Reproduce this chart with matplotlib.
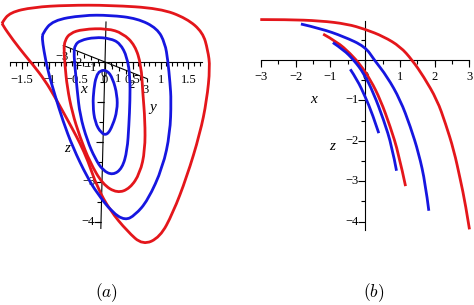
import numpy as np
import matplotlib
matplotlib.use("Agg")
import matplotlib.pyplot as plt
from matplotlib.path import Path
from matplotlib.patches import PathPatch

plt.rcParams['mathtext.fontset'] = 'cm'

RED = '#e4161b'
BLUE = '#1616e0'
SERIF = 'Liberation Serif'
MINUS = '\u2212'
FS = 9

# ---------------- panel (a) data: projected loops (screen-x, z) ----------------
a_red_outer_u = [-1.85, -1.71, -1.29, -0.68, 0.09, 0.99, 1.47, 1.76, 1.85, 1.89, 1.83, 1.71, 1.47, 1.22,
                 0.99, 0.68, 0.40, 0.09, -0.14, -0.31, -0.45, -0.59, -0.74, -0.90, -1.08, -1.29, -1.44, -1.65, -1.85]
a_red_outer_z = [0.99, 1.24, 1.37, 1.42, 1.42, 1.34, 1.09, 0.74, 0.29, -0.13, -0.96, -1.78, -2.88, -3.78,
                 -4.38, -4.58, -4.23, -3.71, -3.13, -2.46, -2.03, -1.66, -1.28, -0.88, -0.46, -0.08, 0.17, 0.54, 0.94]

a_blue_outer_u = [-1.12, -0.94, -0.40, 0.09, 0.58, 0.94, 1.08, 1.13, 1.17, 1.19, 1.17, 1.04, 0.77, 0.54,
                  0.36, 0.13, -0.14, -0.32, -0.58, -0.76, -0.90, -1.03, -1.10, -1.13]
a_blue_outer_z = [0.72, 1.04, 1.17, 1.17, 1.09, 0.84, 0.47, 0.04, -0.53, -0.96, -1.78, -2.63, -3.46, -3.83,
                  -3.96, -3.76, -3.28, -2.88, -2.13, -1.46, -0.83, -0.21, 0.29, 0.59]

a_red_inner_u = [-0.72, -0.63, -0.40, 0.04, 0.32, 0.54, 0.65, 0.68, 0.72, 0.72, 0.63, 0.45, 0.22, -0.04,
                 -0.27, -0.45, -0.59, -0.68, -0.72, -0.74]
a_red_inner_z = [0.54, 0.72, 0.82, 0.84, 0.72, 0.42, -0.08, -0.78, -1.46, -2.21, -2.78, -3.16, -3.28, -3.06,
                 -2.51, -1.88, -1.26, -0.63, -0.08, 0.34]

a_blue_mid_u = [-0.54, -0.45, -0.18, 0.09, 0.27, 0.40, 0.45, 0.45, 0.43, 0.40, 0.31, 0.14, -0.04, -0.18,
                -0.32, -0.45, -0.50, -0.54, -0.56]
a_blue_mid_z = [0.42, 0.54, 0.62, 0.59, 0.47, 0.12, -0.38, -0.96, -1.58, -2.21, -2.66, -2.83, -2.71, -2.41,
                -1.96, -1.33, -0.71, -0.13, 0.24]

a_blue_inner_u = [-0.09, 0.04, 0.14, 0.22, 0.22, 0.14, 0.04, -0.07, -0.18, -0.22, -0.20, -0.16]
a_blue_inner_z = [-0.21, -0.21, -0.41, -0.83, -1.21, -1.58, -1.83, -1.78, -1.51, -1.08, -0.66, -0.36]

a_x_ticklabels = [-1.5, -1, -0.5, 0, 0.5, 1, 1.5]
a_y_ticklabels = [-3, -2, -1, 0, 1, 2, 3]
a_z_ticklabels = [-3, -4]

# ---------------- panel (b) data: (x, z) curves ----------------
b_red_outer_x = [-3.02, -2.25, -1.29, -0.52, 0.0, 0.53, 1.01, 1.35, 1.68, 2.07, 2.31, 2.55, 2.74, 2.88, 3.0]
b_red_outer_z = [1.0, 1.0, 0.97, 0.89, 0.76, 0.58, 0.33, 0.0, -0.41, -0.99, -1.57, -2.23, -2.97, -3.55, -4.19]

b_blue_outer_x = [-1.85, -1.29, -0.62, 0.0, 0.26, 0.63, 1.01, 1.30, 1.54, 1.73, 1.83]
b_blue_outer_z = [0.89, 0.78, 0.58, 0.33, 0.0, -0.41, -0.99, -1.65, -2.31, -3.05, -3.73]

b_red_inner_x = [-1.21, -0.81, -0.43, -0.14, 0.15, 0.44, 0.72, 0.96, 1.16]
b_red_inner_z = [0.64, 0.45, 0.16, -0.12, -0.49, -0.99, -1.65, -2.31, -3.12]

b_blue_mid_x = [-0.93, -0.62, -0.33, -0.04, 0.24, 0.53, 0.77, 0.90]
b_blue_mid_z = [0.43, 0.25, 0.0, -0.33, -0.82, -1.48, -2.14, -2.74]

b_blue_inner_x = [-0.43, -0.23, 0.0, 0.20, 0.39]
b_blue_inner_z = [-0.23, -0.49, -0.91, -1.32, -1.81]

b_x_ticklabels = [-3, -2, -1, 0, 1, 2, 3]
b_z_ticklabels = [-1, -2, -3, -4]


def fmt(v):
    s = ('%g' % abs(v))
    return (MINUS + s) if v < 0 else s


def smooth_closed(ax, us, zs, color):
    P = np.column_stack([us, zs])
    mids = (P + np.roll(P, -1, axis=0)) / 2
    verts = [mids[-1]]
    codes = [Path.MOVETO]
    for i in range(len(P)):
        verts += [P[i], mids[i]]
        codes += [Path.CURVE3, Path.CURVE3]
    ax.add_patch(PathPatch(Path(verts, codes), fill=False, ec=color, lw=2.0,
                           joinstyle='round', zorder=5, clip_on=False))


def smooth_open(ax, xs, zs, color):
    P = np.column_stack([xs, zs])
    n = len(P)
    verts = [P[0]]
    codes = [Path.MOVETO]
    for i in range(1, n - 2):
        verts += [P[i], (P[i] + P[i + 1]) / 2]
        codes += [Path.CURVE3, Path.CURVE3]
    verts += [P[n - 2], P[n - 1]]
    codes += [Path.CURVE3, Path.CURVE3]
    ax.add_patch(PathPatch(Path(verts, codes), fill=False, ec=color, lw=2.0,
                           capstyle='butt', zorder=5, clip_on=False))


fig = plt.figure(figsize=(4.74, 3.05), dpi=100)
fig.patch.set_facecolor('white')

# ---------------- panel (a) ----------------
axa = fig.add_axes([0.0, 1 - 260 / 305, 237 / 474, 260 / 305])
axa.set_xlim(-105 / 55.6, 132 / 55.6)
axa.set_ylim((62 - 260) / 40, 62 / 40)
axa.axis('off')

lw_ax = 0.8
# horizontal axis
axa.plot([-1.71, 1.74], [0, 0], color='black', lw=lw_ax, zorder=2)
minor = np.round(np.arange(-1.7, 1.75, 0.1), 2)
axa.plot(minor, np.zeros_like(minor), ls='none', marker=3, ms=3, mew=0.8, color='black', zorder=2)
axa.plot(a_x_ticklabels, np.zeros(len(a_x_ticklabels)), ls='none', marker=3, ms=5, mew=0.8,
         color='black', zorder=2)
for v in a_x_ticklabels:
    axa.text(v, -0.45, fmt(v), ha='center', va='center', fontsize=FS, family=SERIF, zorder=3)

# oblique y axis
du, dz = 0.25, -0.1375
axa.plot([-3 * du, 3 * du], [-3 * dz, 3 * dz], color='black', lw=lw_ax, zorder=2)
yt = np.arange(-3, 3.01, 0.5)
axa.plot(yt * du, yt * dz, ls='none', marker=3, ms=3, mew=0.8, color='black', zorder=2)
for v in a_y_ticklabels:
    axa.text(v * du - 0.02, v * dz - 0.3, fmt(v), ha='center', va='center', fontsize=FS,
             family=SERIF, zorder=3)

# tilted z axis
tilt = 0.018
axa.plot([tilt * 1.0, tilt * -4.16], [1.0, -4.16], color='black', lw=lw_ax, zorder=2)
zt = np.arange(-0.5, -4.01, -0.5)
axa.plot(tilt * zt, zt, ls='none', marker=0, ms=3, mew=0.8, color='black', zorder=2)
zmaj = np.array([-1, -2, -3, -4])
axa.plot(tilt * zmaj, zmaj, ls='none', marker=0, ms=5, mew=0.8, color='black', zorder=2)
for v in a_z_ticklabels:
    axa.text(tilt * v - 0.12, v, fmt(v), ha='right', va='center', fontsize=FS, family=SERIF, zorder=3)

axa.text(-0.39, -0.69, 'x', ha='center', va='center', fontsize=11, family=SERIF, style='italic', zorder=3)
axa.text(0.85, -1.13, 'y', ha='center', va='center', fontsize=11, family=SERIF, style='italic', zorder=3)
axa.text(-0.68, -2.16, 'z', ha='center', va='center', fontsize=11, family=SERIF, style='italic', zorder=3)

smooth_closed(axa, a_red_outer_u, a_red_outer_z, RED)
smooth_closed(axa, a_blue_outer_u, a_blue_outer_z, BLUE)
smooth_closed(axa, a_red_inner_u, a_red_inner_z, RED)
smooth_closed(axa, a_blue_mid_u, a_blue_mid_z, BLUE)
smooth_closed(axa, a_blue_inner_u, a_blue_inner_z, BLUE)

# ---------------- panel (b) ----------------
axb = fig.add_axes([0.5, 1 - 260 / 305, 0.5, 260 / 305])
axb.set_xlim(-3.69, 3.13)
axb.set_ylim(-4.948, 1.484)
axb.axis('off')

axb.plot([-3, 3], [0, 0], color='black', lw=lw_ax, zorder=2)
xt = np.arange(-3, 3.01, 0.5)
axb.plot(xt, np.zeros_like(xt), ls='none', marker=3, ms=3, mew=0.8, color='black', zorder=2)
axb.plot(b_x_ticklabels, np.zeros(len(b_x_ticklabels)), ls='none', marker=3, ms=5, mew=0.8,
         color='black', zorder=2)
for v in b_x_ticklabels:
    axb.text(v, -0.42, fmt(v), ha='center', va='center', fontsize=FS, family=SERIF, zorder=3)

axb.plot([0, 0], [0.97, -4.2], color='black', lw=lw_ax, zorder=2)
zt_b = np.array([0.5, -0.5, -1.5, -2.5, -3.5])
axb.plot(np.zeros_like(zt_b), zt_b, ls='none', marker=0, ms=3, mew=0.8, color='black', zorder=2)
axb.plot(np.zeros(len(b_z_ticklabels)), b_z_ticklabels, ls='none', marker=0, ms=5, mew=0.8,
         color='black', zorder=2)
for v in b_z_ticklabels:
    axb.text(-0.2, v, fmt(v), ha='right', va='center', fontsize=FS, family=SERIF, zorder=3)

axb.text(-1.5, -0.97, 'x', ha='center', va='center', fontsize=11, family=SERIF, style='italic', zorder=3)
axb.text(-0.95, -2.14, 'z', ha='center', va='center', fontsize=11, family=SERIF, style='italic', zorder=3)

smooth_open(axb, b_red_outer_x, b_red_outer_z, RED)
smooth_open(axb, b_blue_outer_x, b_blue_outer_z, BLUE)
smooth_open(axb, b_red_inner_x, b_red_inner_z, RED)
smooth_open(axb, b_blue_mid_x, b_blue_mid_z, BLUE)
smooth_open(axb, b_blue_inner_x, b_blue_inner_z, BLUE)

# captions
fig.text(107 / 474, 1 - 293 / 305, '$(a)$', ha='center', va='center', fontsize=12.5)
fig.text(374 / 474, 1 - 293 / 305, '$(b)$', ha='center', va='center', fontsize=12.5)

fig.savefig('out.png', dpi=100, facecolor='white')
